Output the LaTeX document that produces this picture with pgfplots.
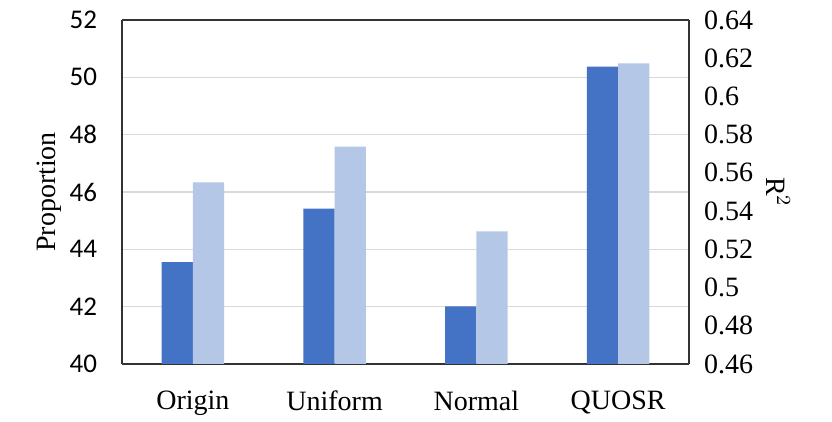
\documentclass[border=0pt]{standalone}
\usepackage{pgfplots}
\pgfplotsset{compat=1.18}
\usepackage{fontspec}
\setmainfont{Liberation Serif}
\newfontfamily\calib{Carlito}
\definecolor{darkbar}{RGB}{68,114,196}
\definecolor{lightbar}{RGB}{180,199,231}
\definecolor{gridc}{RGB}{217,217,217}
\begin{document}
\begin{tikzpicture}
\useasboundingbox (0,0) rectangle (416pt,211pt);
\pgfplotsset{
  common/.style={
    scale only axis, width=283.5pt, height=172pt,
    at={(61pt,29pt)}, anchor=south west,
    xmin=-0.5, xmax=3.5,
    ybar, bar width=0.22,
    major tick length=0pt,
    tick label style={font=\fontsize{14}{16}\selectfont},
    label style={font=\fontsize{14}{16}\selectfont},
    /pgf/number format/assume math mode=true,
  }
}
\begin{axis}[common,
  ymin=40, ymax=52, ytick={40,42,...,52},
  ymajorgrids, grid style={gridc, line width=0.6pt},
  axis line style={black!80, line width=0.8pt},
  xtick={0,1,2,3}, xticklabels={Origin,Uniform,Normal,QUOSR},
  xticklabel style={yshift=-10pt},
  yticklabel style={xshift=-9pt, font=\calib\fontsize{13.5}{15}\selectfont},
  ylabel={Proportion}, ylabel style={yshift=-3pt},
  axis y line*=left, axis x line*=bottom,
]
\addplot[fill=darkbar, draw=none, bar shift=-0.11] coordinates {(0,43.55) (1,45.42) (2,42.01) (3,50.37)};
\end{axis}
\begin{axis}[common,
  ymin=0.46, ymax=0.64, ytick={0.46,0.48,...,0.641},
  axis y line*=right, axis x line=none,
  axis line style={black!80, line width=0.8pt},
  yticklabel style={xshift=4pt, /pgf/number format/.cd, fixed, precision=2},
  ylabel={R$^{2}$}, ylabel style={rotate=180, yshift=0pt},
]
\addplot[fill=lightbar, draw=none, bar shift=0.11] coordinates {(0,0.555) (1,0.5737) (2,0.5294) (3,0.6173)};
\end{axis}
\draw[black!80, line width=0.8pt] (61pt,211pt-10pt) -- (344.5pt,211pt-10pt);
\end{tikzpicture}
\end{document}
